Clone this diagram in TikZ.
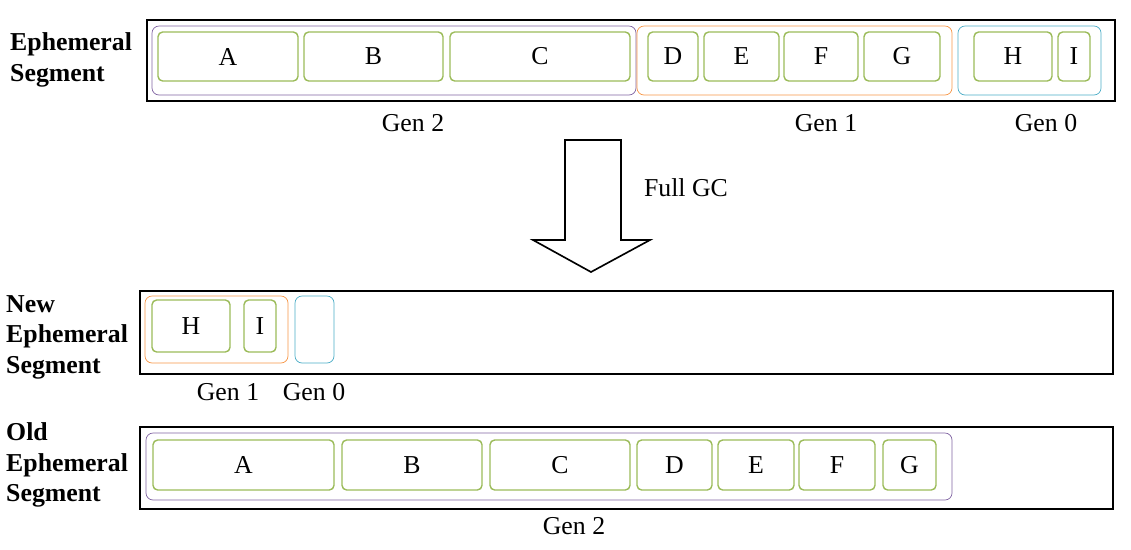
\documentclass[tikz,border=0pt]{standalone}
\usepackage{fontspec}
\setmainfont{Liberation Serif}
\usetikzlibrary{positioning}
\definecolor{cgreen}{RGB}{155,187,89}
\definecolor{cpurple}{RGB}{128,100,162}
\definecolor{corange}{RGB}{247,150,70}
\definecolor{ccyan}{RGB}{75,172,198}
\begin{document}
\begin{tikzpicture}[
	x = 0.03cm, y = -0.03cm,
	font = \fontsize{22}{26}\selectfont,
	seg/.style={draw=black, line width=1.4pt},
	grp/.style={draw=#1, rounded corners=6pt, line width=0.6pt},
	obj/.style={draw=cgreen, rounded corners=4pt, line width=1.2pt},
	lbl/.style={align=left, anchor=west, inner sep=0pt, font=\fontsize{22}{26}\selectfont\bfseries},
	]
	\useasboundingbox (0,0) rectangle (1131,549);

	% Ephemeral segment
	\draw[seg] (147,20) rectangle (1115,101);
	\draw[grp=cpurple] (152,26) rectangle (636,95);
	\draw[grp=corange] (637,26) rectangle (952,95);
	\draw[grp=ccyan] (958,26) rectangle (1101,95);
	\foreach \l/\a/\b in {A/158/298, B/304/443, C/450/630, D/648/698, E/704/779, F/784/858, G/864/940, H/974/1052, I/1058/1090}
		\draw[obj] (\a,32) rectangle node {\l} (\b,81);
	\node[lbl] (top) at (10,60) {Ephemeral\\Segment};
	\node (g2) at (413,123) {Gen 2};
	\node (g1) at (826,123) {Gen 1};
	\node (g0) at (1046,123) {Gen 0};

	% Full GC arrow
	\draw[line width=1.4pt, fill=white] (565,140) -- (621,140) -- (621,240) -- (650,240) -- (591,272)
		-- (533,240) -- (565,240) -- cycle;
	\node (gc) at (686,188) {Full GC};

	% New ephemeral segment
	\draw[seg] (140,291) rectangle (1113,374);
	\draw[grp=corange] (145,296) rectangle (288,363);
	\draw[grp=ccyan] (295,296) rectangle (334,363);
	\foreach \l/\a/\b in {H/152/230, I/244/276}
		\draw[obj] (\a,300) rectangle node {\l} (\b,352);
	\node[lbl] (new) at (6,337) {New\\Ephemeral\\Segment};
	\node (n1) at (228,392) {Gen 1};
	\node (n0) at (314,392) {Gen 0};

	% Old ephemeral segment
	\draw[seg] (140,427) rectangle (1113,509);
	\draw[grp=cpurple] (146,433) rectangle (952,500);
	\foreach \l/\a/\b in {A/153/334, B/342/482, C/490/630, D/637/712, E/718/794, F/799/875, G/883/936}
		\draw[obj] (\a,440) rectangle node {\l} (\b,490);
	\node[lbl] (old) at (6,465) {Old\\Ephemeral\\Segment};
	\node (o2) at (574,526) {Gen 2};
\end{tikzpicture}
\end{document}
